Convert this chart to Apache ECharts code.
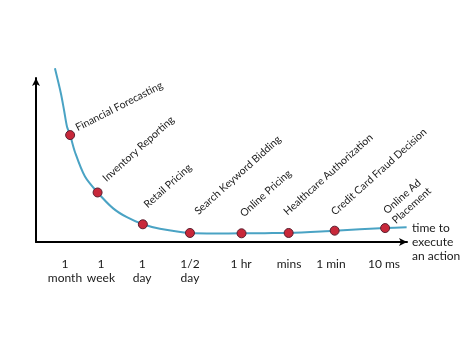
<!DOCTYPE html>
<html>
<head>
<meta charset="utf-8">
<script src="https://cdn.jsdelivr.net/npm/echarts@6/dist/echarts.min.js"></script>
<style>
html,body{margin:0;padding:0;background:#fff;}
#chart{width:474px;height:355px;}
</style>
</head>
<body>
<div id="chart"></div>
<script>
// Use cases (marker labels)
const categories = ["Financial Forecasting", "Inventory Reporting", "Retail Pricing", "Search Keyword Bidding", "Online Pricing", "Healthcare Authorization", "Credit Card Fraud Decision", "Online Ad\nPlacement"];
// Marker positions (relative units)
const pointX = [0.92, 1.66, 2.88, 4.15, 5.54, 6.81, 8.05, 9.41];
const pointY = [6.52, 3.02, 1.08, 0.55, 0.53, 0.55, 0.69, 0.85];
// Curve trace
const curveX = [0.51, 0.67, 0.755, 0.836, 0.92, 1.05, 1.32, 1.66, 2.08, 2.45, 2.88, 3.34, 4.15, 4.83, 5.54, 6.17, 6.81, 8.05, 9.41, 9.99];
const curveY = [10.59, 9.07, 8.05, 7.03, 6.52, 5.49, 3.99, 3.02, 2.05, 1.51, 1.08, 0.81, 0.55, 0.52, 0.53, 0.54, 0.55, 0.69, 0.85, 0.90];
// x-axis tick labels and where they sit
const tickLabels = ["1\nmonth", "1\nweek", "1\nday", "1/2\nday", "1 hr", "mins", "1 min", "10 ms"];
const tickPositions = [0.78, 1.75, 2.86, 4.15, 5.53, 6.82, 7.95, 9.38];
const axisTitle = "time to\nexecute\nan action";

// label styling (per marker rotation / placement)
const labelRotate = [27, 42, 42, 42, 42, 42, 42, 42];
const labelPos = [[14, 4], [16, -3], [12, -8.5], [15.5, -10.5], [9.5, -8.5], [6, -10], [7.5, -7.5], [18, 3.5]];

const FONT = 'Lato';
const chart = echarts.init(document.getElementById('chart'), null, {renderer: 'canvas'});

const scatterData = pointX.map((x, i) => ({
  value: [x, pointY[i]],
  label: {
    show: true,
    formatter: categories[i],
    position: labelPos[i],
    rotate: labelRotate[i],
    align: 'left',
    verticalAlign: 'bottom',
    fontFamily: FONT,
    fontSize: 10.5,
    lineHeight: 13,
    color: '#1a1a1a'
  }
}));

chart.setOption({
  animation: false,
  backgroundColor: '#ffffff',
  grid: {left: 36, right: 67, top: 78, bottom: 113, containLabel: false},
  xAxis: {
    type: 'value', min: 0, max: 10,
    splitLine: {show: false},
    axisTick: {show: false},
    axisLine: {show: true, lineStyle: {color: '#000', width: 2}, symbol: ['none', 'arrow'], symbolSize: [6, 8], symbolOffset: [0, 0]},
    axisLabel: {
      show: true,
      customValues: tickPositions,
      formatter: function (v) {
        let idx = 0, best = Infinity;
        tickPositions.forEach((p, i) => { const d = Math.abs(p - v); if (d < best) { best = d; idx = i; } });
        return tickLabels[idx];
      },
      fontFamily: FONT, fontSize: 12, lineHeight: 14, color: '#1a1a1a', margin: 15, align: 'center', verticalAlign: 'top'
    },
    name: axisTitle,
    nameLocation: 'end',
    nameGap: 5,
    nameTextStyle: {fontFamily: FONT, fontSize: 12, lineHeight: 14, color: '#1a1a1a', align: 'left', verticalAlign: 'middle', padding: [18, 0, 0, 0]}
  },
  yAxis: {
    type: 'value', min: 0, max: 10,
    splitLine: {show: false},
    axisTick: {show: false},
    axisLabel: {show: false},
    axisLine: {show: true, lineStyle: {color: '#000', width: 2}, symbol: ['none', 'arrow'], symbolSize: [6, 8]}
  },
  series: [
    {
      type: 'line',
      data: curveX.map((x, i) => [x, curveY[i]]),
      smooth: 0.3,
      showSymbol: false,
      clip: false,
      silent: true,
      lineStyle: {color: '#4aa3c4', width: 2},
      z: 2
    },
    {
      type: 'scatter',
      data: scatterData,
      symbol: 'circle',
      symbolSize: 9,
      clip: false,
      itemStyle: {color: '#c8283a', borderColor: '#5a2030', borderWidth: 1, opacity: 1},
      z: 3
    }
  ]
});
</script>
</body>
</html>
